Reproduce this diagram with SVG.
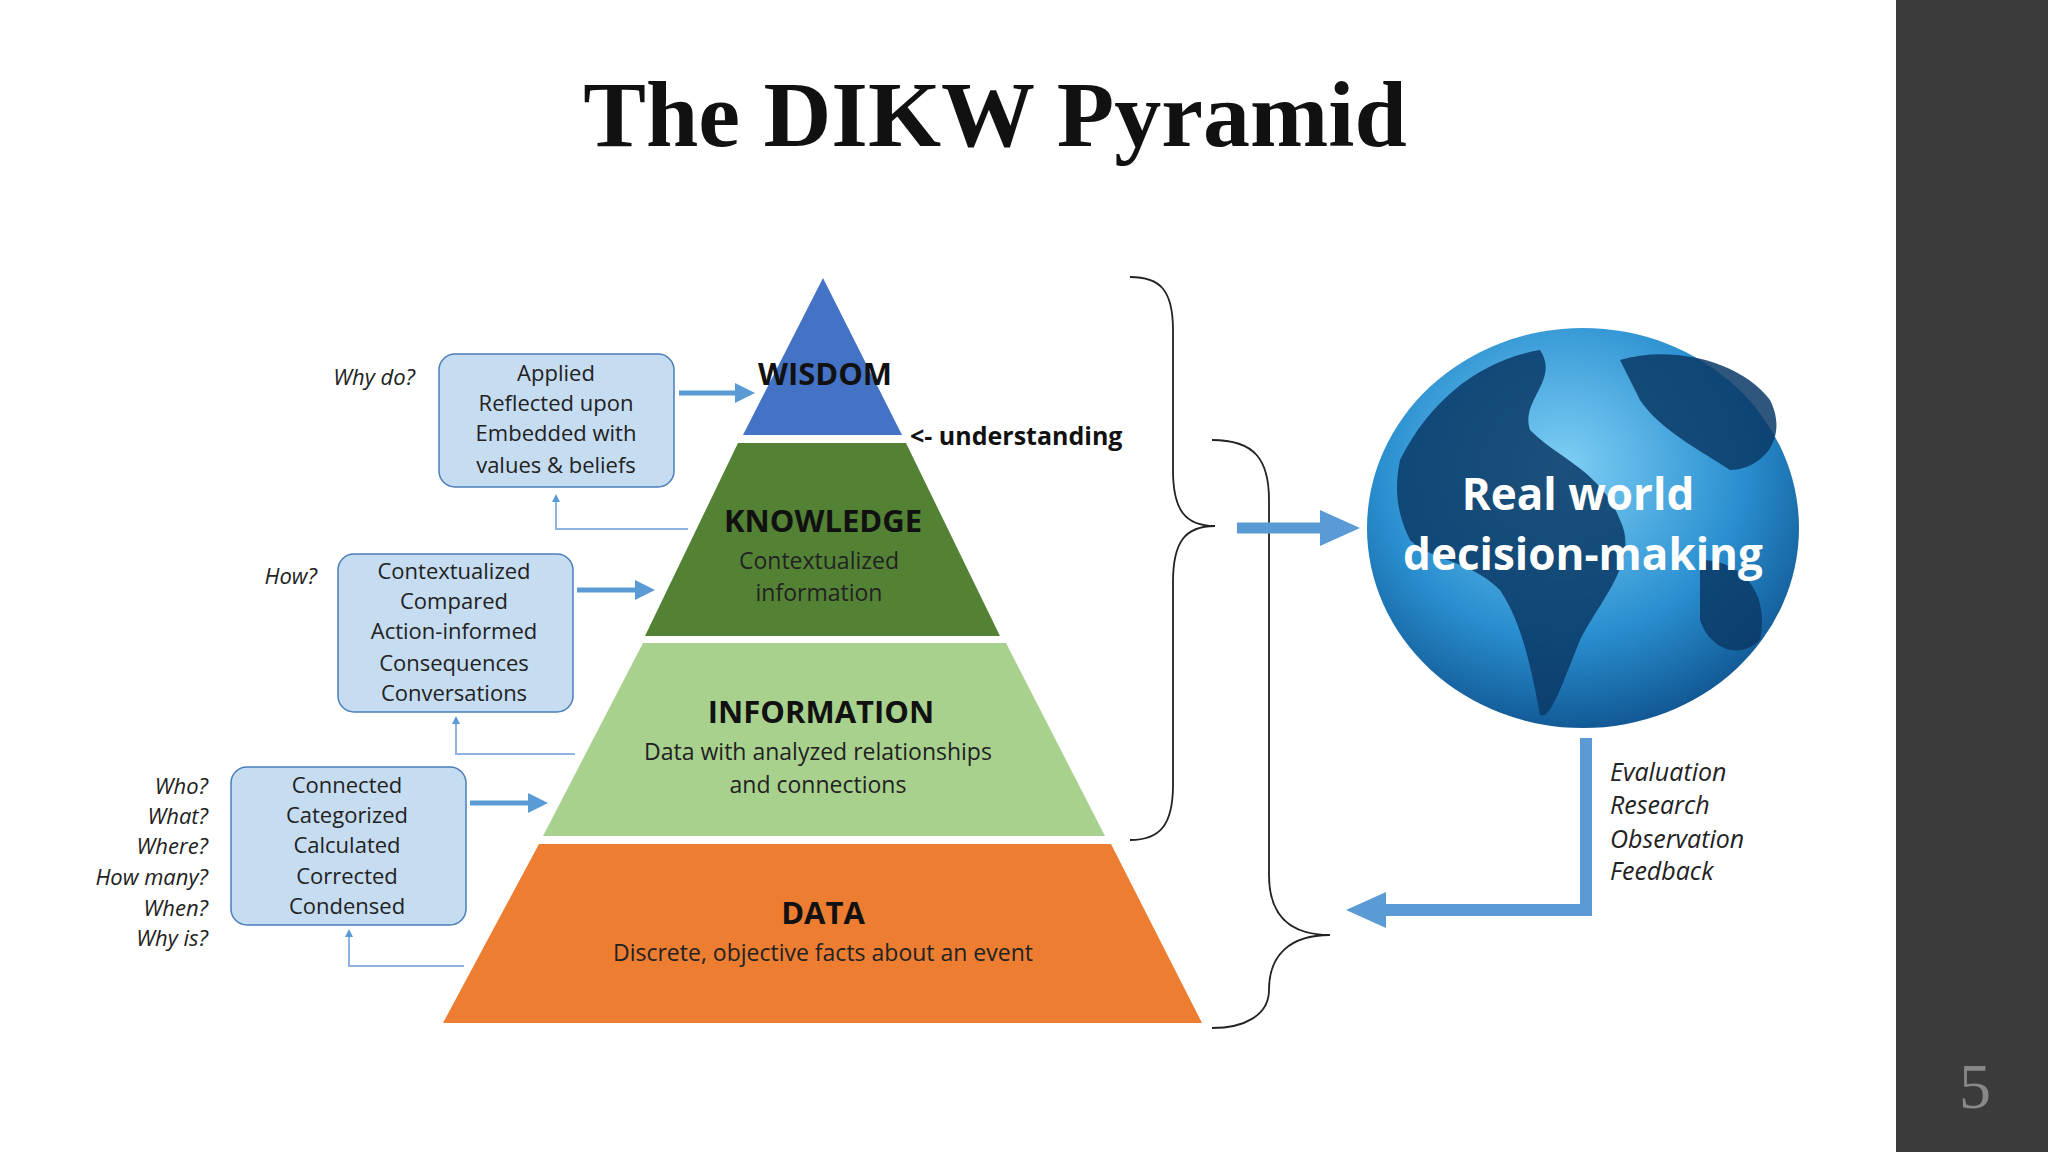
<svg xmlns="http://www.w3.org/2000/svg" width="2048" height="1152" viewBox="0 0 2048 1152">
<style>
.b{fill:#c5dcf1;stroke:#4a7ebb;stroke-width:1.5}
.bt{font-family:"Open Sans","Liberation Sans",sans-serif;font-size:22px;fill:#222;text-anchor:middle}
.q{font-family:"Open Sans","Liberation Sans",sans-serif;font-size:22px;font-style:italic;fill:#222;text-anchor:end}
.h{font-family:"Open Sans","Liberation Sans",sans-serif;font-size:31px;font-weight:bold;fill:#111;text-anchor:middle}
.s{font-family:"Open Sans","Liberation Sans",sans-serif;font-size:23px;fill:#222;text-anchor:middle}
.a{stroke:#5b9bd5;stroke-width:5;fill:none}
.r{stroke:#8eb4e3;stroke-width:2;fill:none}
.br{stroke:#222;stroke-width:1.8;fill:none}
</style>
<defs>
<marker id="m" markerWidth="4" markerHeight="4" refX="2" refY="2" orient="auto" markerUnits="strokeWidth"><path d="M0,0L4,2L0,4z" fill="#5b9bd5"/></marker>
<marker id="ms" markerWidth="8" markerHeight="8" refX="6" refY="4" orient="auto" markerUnits="userSpaceOnUse"><path d="M0,0L8,4L0,8z" fill="#5b9bd5"/></marker>
<radialGradient id="g" cx="0.45" cy="0.35" r="0.7"><stop offset="0" stop-color="#7fd0f5"/><stop offset="0.6" stop-color="#2a8fd0"/><stop offset="1" stop-color="#0d4f8a"/></radialGradient>
</defs>
<rect width="2048" height="1152" fill="#fff"/>
<rect x="1896" y="0" width="152" height="1152" fill="#3b3b3b"/>
<text x="1975" y="1108" font-family="Liberation Serif,serif" font-size="64" fill="#888" text-anchor="middle">5</text>
<text x="995" y="146" font-family="Liberation Serif,serif" font-size="94" font-weight="bold" fill="#111" text-anchor="middle">The DIKW Pyramid</text>

<g id="wisdom"><path d="M823,278L902,435L743,435z" fill="#4472c4"/><text class="h" x="825" y="385">WISDOM</text></g>
<text x="910" y="445" font-family="Open Sans,Liberation Sans,sans-serif" font-size="25" font-weight="bold" fill="#111">&lt;- understanding</text>
<g id="knowledge"><path d="M738,443L906,443L1000,636L645,636z" fill="#548235"/><text class="h" x="823" y="532">KNOWLEDGE</text><text class="s" x="819" y="569">Contextualized</text><text class="s" x="819" y="601">information</text></g>
<g id="information"><path d="M643,643L1006,643L1105,836L543,836z" fill="#a9d18e"/><text class="h" x="821" y="723">INFORMATION</text><text class="s" x="818" y="760">Data with analyzed relationships</text><text class="s" x="818" y="793">and connections</text></g>
<g id="data"><path d="M539,844L1111,844L1202,1023L443,1023z" fill="#ed7d31"/><text class="h" x="823" y="924">DATA</text><text class="s" x="823" y="961">Discrete, objective facts about an event</text></g>

<g id="box1"><rect class="b" x="439" y="354" width="235" height="133" rx="16"/><text class="bt" x="556" y="381">Applied</text><text class="bt" x="556" y="411">Reflected upon</text><text class="bt" x="556" y="441">Embedded  with</text><text class="bt" x="556" y="473">values &amp; beliefs</text><text class="q" x="415" y="385">Why do?</text></g>
<g id="box2"><rect class="b" x="338" y="554" width="235" height="158" rx="16"/><text class="bt" x="454" y="579">Contextualized</text><text class="bt" x="454" y="609">Compared</text><text class="bt" x="454" y="639">Action-informed</text><text class="bt" x="454" y="671">Consequences</text><text class="bt" x="454" y="701">Conversations</text><text class="q" x="317" y="584">How?</text></g>
<g id="box3"><rect class="b" x="231" y="767" width="235" height="158" rx="16"/><text class="bt" x="347" y="793">Connected</text><text class="bt" x="347" y="823">Categorized</text><text class="bt" x="347" y="853">Calculated</text><text class="bt" x="347" y="884">Corrected</text><text class="bt" x="347" y="914">Condensed</text>
<text class="q" x="208" y="794">Who?</text><text class="q" x="208" y="824">What?</text><text class="q" x="208" y="854">Where?</text><text class="q" x="208" y="885">How many?</text><text class="q" x="208" y="916">When?</text><text class="q" x="208" y="946">Why is?</text></g>

<g id="globe"><ellipse cx="1583" cy="528" rx="216" ry="200" fill="url(#g)"/>
<path d="M1400,460C1430,400 1480,360 1540,350C1560,380 1520,400 1530,430C1560,460 1600,470 1620,520C1640,560 1600,600 1580,640C1560,690 1550,720 1540,715C1530,660 1520,620 1500,590C1470,560 1430,560 1410,540C1395,510 1395,485 1400,460z" fill="#0a3a66" opacity="0.85"/>
<path d="M1620,360C1670,345 1740,360 1770,400C1790,440 1760,470 1730,470C1700,450 1660,430 1640,400z" fill="#0a3a66" opacity="0.85"/>
<path d="M1700,560C1740,560 1770,590 1760,640C1740,660 1710,650 1700,620z" fill="#0a3a66" opacity="0.85"/>
<text x="1578" y="510" font-family="Open Sans,Liberation Sans,sans-serif" font-size="44" font-weight="bold" fill="#fff" text-anchor="middle">Real world</text>
<text x="1583" y="570" font-family="Open Sans,Liberation Sans,sans-serif" font-size="44" font-weight="bold" fill="#fff" text-anchor="middle">decision-making</text></g>

<g id="connectors">
<line class="a" x1="679" y1="393" x2="745" y2="393" marker-end="url(#m)"/>
<line class="a" x1="577" y1="590" x2="645" y2="590" marker-end="url(#m)"/>
<line class="a" x1="470" y1="803" x2="538" y2="803" marker-end="url(#m)"/>
<path class="r" d="M688,529H556V496" marker-end="url(#ms)"/>
<path class="r" d="M575,754H456V718" marker-end="url(#ms)"/>
<path class="r" d="M464,966H349V931" marker-end="url(#ms)"/>
<path class="br" d="M1130,277C1160,277 1173,290 1173,330V470C1173,510 1185,526 1215,526C1185,526 1173,542 1173,582V785C1173,825 1160,840 1130,840"/>
<path class="br" d="M1212,440C1255,440 1269,460 1269,500V875C1269,915 1290,935 1330,935C1290,935 1269,955 1269,990C1269,1015 1245,1028 1212,1028"/>
<line x1="1237" y1="528" x2="1325" y2="528" stroke="#5b9bd5" stroke-width="11"/>
<path d="M1320,510L1360,528L1320,546z" fill="#5b9bd5"/>
<path d="M1586,738V910H1380" stroke="#5b9bd5" stroke-width="12" fill="none"/>
<path d="M1386,892L1346,910L1386,928z" fill="#5b9bd5"/>
</g>
<g font-family="Open Sans,Liberation Sans,sans-serif" font-size="25" font-style="italic" fill="#222">
<text x="1610" y="781">Evaluation</text><text x="1610" y="814">Research</text><text x="1610" y="848">Observation</text><text x="1610" y="880">Feedback</text></g>
</svg>
